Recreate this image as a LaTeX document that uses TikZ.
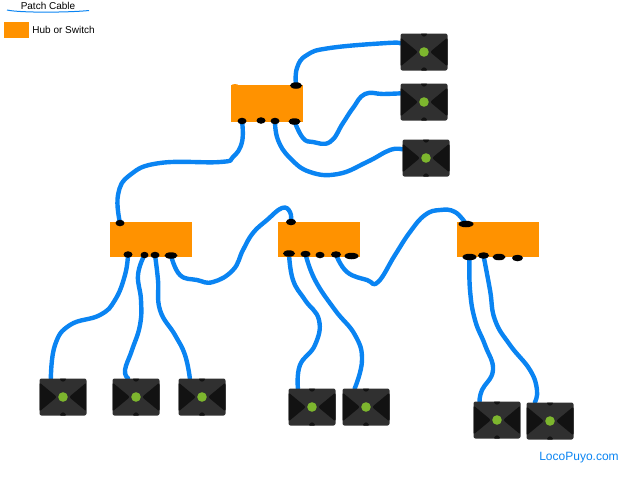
\documentclass[tikz,border=0pt]{standalone}
\usepackage{fontspec}
\setmainfont{Liberation Sans}
\usetikzlibrary{shapes.geometric,backgrounds,positioning}
\definecolor{cableblue}{HTML}{0A84F2}
\definecolor{huborange}{HTML}{FF9200}
\definecolor{boxgray}{HTML}{303030}
\definecolor{boxdark}{HTML}{121212}
\definecolor{boxgreen}{HTML}{7DB62E}
\tikzset{
 hub/.style
  = {rectangle, fill=huborange, inner sep=0pt, minimum width=82pt, minimum height=35pt},
 port/.style
  = {ellipse, fill=black, inner sep=0pt, minimum height=6.5pt},
 cable/.style
  = {draw=cableblue, line width=4.4pt, line cap=round, line join=round},
 console/.style
  = {rectangle, fill=boxgray, rounded corners=2pt, inner sep=0pt, minimum width=47pt, minimum height=37pt,
     path picture={
       \fill[boxdark] ([yshift=-4pt]path picture bounding box.north west) -- ([xshift=-6pt]path picture bounding box.center) -- ([yshift=4pt]path picture bounding box.south west) -- cycle;
       \fill[boxdark] ([yshift=-4pt]path picture bounding box.north east) -- ([xshift=6pt]path picture bounding box.center) -- ([yshift=4pt]path picture bounding box.south east) -- cycle;
       \fill[boxdark] ([xshift=-4pt]path picture bounding box.north) -- ([yshift=-4pt]path picture bounding box.north) -- ([xshift=4pt]path picture bounding box.north) -- cycle;
       \fill[boxdark] ([xshift=-4pt]path picture bounding box.south) -- ([yshift=4pt]path picture bounding box.south) -- ([xshift=4pt]path picture bounding box.south) -- cycle;
       \fill[boxgreen] (path picture bounding box.center) circle (4.8pt);
     }},
 legend/.style
  = {inner sep=0pt, font=\fontsize{10}{11}\selectfont},
}

\begin{document}
\begin{tikzpicture}[x=1pt,y=-1pt]
\useasboundingbox (0,0) rectangle (640,480);

% Legend
\node[legend] (cablename) at (48,6) {Patch Cable};
\coordinate (cableleft) at (7,10);
\coordinate (cableright) at (89,10.5);
\draw[draw=cableblue, line width=1pt] (cableleft) .. controls (20,13) and (70,12.5) .. (cableright);
\node[hub, minimum width=25pt, minimum height=16pt] (hubkey) at (16.5,30) {};
\node[legend, right=3pt of hubkey] (hubname) {Hub or Switch};

% Hubs
\node[hub, minimum width=72pt, minimum height=37pt] (hubtop) at (267,103.5) {};
\node[ellipse, fill=huborange, inner sep=0pt, minimum width=8pt, minimum height=4pt] (hubtip) at (235,86) {};
\node[hub] (hubleft) at (151,239.5) {};
\node[hub] (hubmid) at (319,239.5) {};
\node[hub] (hubright) at (498,239.5) {};

% Ports
\foreach \name/\x/\y/\w in {ptopup/296/85.5/12, ptopa/242/121/9, ptopb/261/120.5/9, ptopc/275/121/9, ptopd/294.5/121.5/12,
    pleftup/120/223/9, plefta/128/254.5/9, pleftb/144.5/255/8, pleftc/155/255/9, pleftd/171/255.5/13,
    pmidup/291/222/10, pmida/289/253.5/12, pmidb/305.5/254/10, pmidc/320/255/9, pmidd/336/254.5/10, pmide/351.5/256/14,
    prightup/466/224/15, prighta/469.5/257/14, prightb/483.5/255.5/11, prightc/499/257/13, prightd/517.5/258/11}
  \node[port, minimum width=\w pt] (\name) at (\x,\y) {};

% Consoles
\foreach \name/\x/\y in {boxa/424/52, boxb/424/102, boxc/426/158,
    boxd/63/397, boxe/136/397, boxf/202/397, boxg/312/407, boxh/366/407, boxi/497/420, boxj/550/421}
  \node[console] (\name) at (\x,\y) {};

% Cables
\begin{scope}[on background layer, tension=0.75]
\draw[cable] plot[smooth] coordinates {(ptopup) (297,68) (307,55) (330,48) (387,43) (boxa.160)};
\draw[cable] plot[smooth] coordinates {(ptopd) (303,138) (313,142) (330,142) (343,123) (353,108) (365,94) (383,94) (boxb.160)};
\draw[cable] plot[smooth] coordinates {(ptopc) (278,140) (290,158) (310,172) (338,174) (367,162) (390,150) (boxc.160)};
\draw[cable] plot[smooth] coordinates {(ptopa) (242,142) (233,157) (220,162) (160,163) (130,175) (118,195) (pleftup)};
\draw[cable] plot[smooth] coordinates {(pleftd) (180,275) (197,280) (213,282) (233,270) (243,250) (253,233) (267,220) (282,208) (290,212) (pmidup)};
\draw[cable] plot[smooth] coordinates {(pmidd) (347,272) (367,280) (378,282) (395,255) (410,232) (425,215) (440,210) (455,212) (prightup)};
\draw[cable] plot[smooth] coordinates {(plefta) (125,275) (115,300) (100,315) (70,325) (55,345) (boxd.123)};
\draw[cable] plot[smooth] coordinates {(pleftb) (138,275) (141,300) (140,325) (132,350) (125,370) (boxe.113)};
\draw[cable] plot[smooth] coordinates {(pleftc) (158,280) (160,310) (175,335) (185,355) (boxf.123)};
\draw[cable] plot[smooth] coordinates {(pmida) (293,280) (305,300) (319,320) (315,345) (300,365) (boxg.127)};
\draw[cable] plot[smooth] coordinates {(pmidb) (315,280) (335,310) (355,335) (362,360) (boxh.121)};
\draw[cable] plot[smooth] coordinates {(prighta) (470,290) (475,320) (485,345) (493,370) (482,390) (boxi.133)};
\draw[cable] plot[smooth] coordinates {(prightb) (490,290) (495,320) (510,345) (530,370) (537,390) (boxj.129)};
\end{scope}

% Site name
\node[inner sep=0pt, text=cableblue, font=\fontsize{12}{13}\selectfont] (site) at (579,458) {LocoPuyo.com};

\end{tikzpicture}
\end{document}
